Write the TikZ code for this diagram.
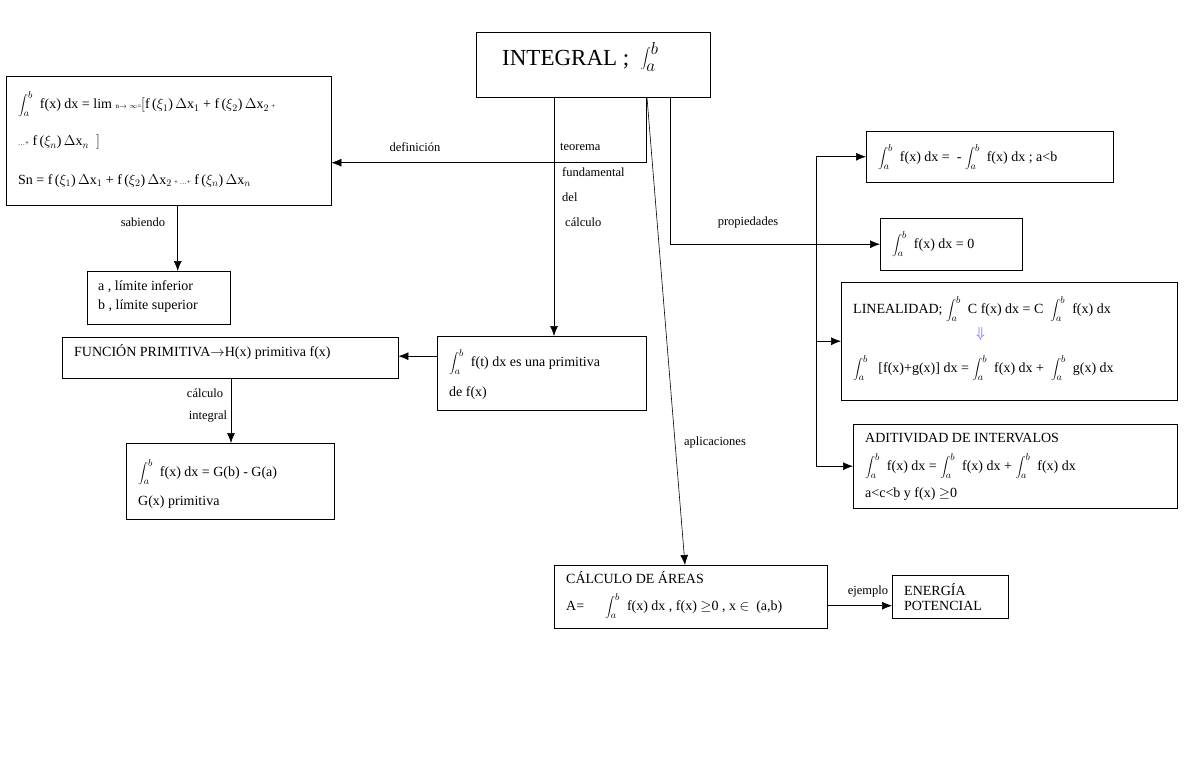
\documentclass[tikz,border=0pt]{standalone}
\usepackage{fontspec}
\setmainfont{Liberation Serif}
\usetikzlibrary{arrows, arrows.meta, positioning}
\tikzset{>={Latex[length=10pt,width=8pt]}}
\newcommand{\intab}{\ensuremath{\displaystyle\int_a^b}}
\begin{document}
\begin{tikzpicture}[x=1pt,y=-1pt,
  box/.style={draw,rectangle,inner sep=0pt,anchor=north west},
  txt/.style={anchor=west,inner sep=0pt,font=\fontsize{14}{16}\selectfont},
  lbl/.style={inner sep=0pt,font=\fontsize{12.5}{14}\selectfont},
  con/.style={->,semithick}]
\useasboundingbox (0,0) rectangle (1187,784);
% cajas
\node[box,minimum width=234,minimum height=65] (top) at (476,32) {};
\node[txt,font=\fontsize{23}{25}\selectfont] at (502,57) {INTEGRAL ;\ \ \intab};
\node[box,minimum width=325,minimum height=129] (def) at (6,76) {};
\node[txt] at (18,104) {\intab\ \ f(x) dx = lim {\scriptsize n$\to\infty$=}$\Big[$f\,($\xi_1$)\,$\Delta$x$_1$ + f\,($\xi_2$)\,$\Delta$x$_2$\,{\scriptsize+}};
\node[txt] at (18,142) {{\scriptsize\dots +} f\,($\xi_n$)\,$\Delta$x$_n$\ \ $\Big]$};
\node[txt] at (18,181) {Sn = f\,($\xi_1$)\,$\Delta$x$_1$ + f\,($\xi_2$)\,$\Delta$x$_2$\,{\scriptsize+ \dots +} f\,($\xi_n$)\,$\Delta$x$_n$};
\node[box,minimum width=143,minimum height=53] (lim) at (87,271) {};
\node[txt] at (98,287) {a , límite inferior};
\node[txt] at (98,306) {b , límite superior};
\node[box,minimum width=336,minimum height=41] (prim) at (62,337) {};
\node[txt] at (74,352) {FUNCIÓN PRIMITIVA$\to$H(x) primitiva f(x)};
\node[box,minimum width=208,minimum height=76] (barrow) at (126,443) {};
\node[txt] at (138,472) {\intab\ \ f(x) dx = G(b) - G(a)};
\node[txt] at (138,502) {G(x) primitiva};
\node[box,minimum width=209,minimum height=74] (teo) at (437,336) {};
\node[txt] at (449,362) {\intab\ \ f(t) dx es una primitiva};
\node[txt] at (449,393) {de f(x)};
\node[box,minimum width=247,minimum height=51] (p1) at (866,131) {};
\node[txt] at (878,157) {\intab\ \ f(x) dx =\ \ -\ \intab\ \ f(x) dx ; a<b};
\node[box,minimum width=142,minimum height=52] (p2) at (880,218) {};
\node[txt] at (892,244) {\intab\ \ f(x) dx = 0};
\node[box,minimum width=336,minimum height=118] (lin) at (841,282) {};
\node[txt] at (853,309) {LINEALIDAD;\ \intab\ \ C f(x) dx = C\ \ \intab\ \ f(x) dx};
\node[txt,text=blue!70] at (976,334) {$\Downarrow$};
\node[txt] at (853,368) {\intab\ \ \ [f(x)+g(x)] dx =\ \intab\ \ f(x) dx +\ \ \intab\ \ g(x) dx};
\node[box,minimum width=324,minimum height=84] (adit) at (853,424) {};
\node[txt] at (865,438) {ADITIVIDAD DE INTERVALOS};
\node[txt] at (865,466) {\intab\ \ f(x) dx =\ \intab\ \ f(x) dx +\ \intab\ \ f(x) dx};
\node[txt] at (865,494) {a<c<b y f(x) $\geq$0};
\node[box,minimum width=273,minimum height=63] (area) at (554,565) {};
\node[txt] at (566,578) {CÁLCULO DE ÁREAS};
\node[txt] at (566,606) {A=\quad\ \ \intab\ \ f(x) dx , f(x) $\geq$0 , x $\in$\ \ (a,b)};
\node[box,minimum width=116,minimum height=43] (ener) at (892,575) {};
\node[txt] at (904,590) {ENERGÍA};
\node[txt] at (904,606) {POTENCIAL};
% conectores
\coordinate (bus) at (816,248);
\draw[con] ([xshift=53]top.south) |- ([yshift=-22]def.east);
\node[lbl] at (415,147) {definición};
\draw[con] ([xshift=19]def.south -| lim.north) -- ([xshift=19]lim.north);
\node[lbl] at (143,222) {sabiendo};
\draw[con] ([xshift=78]top.south west) -- ([xshift=117]teo.north west);
\node[lbl,anchor=west] at (560,147) {teorema};
\node[lbl,anchor=west] at (562,172) {fundamental};
\node[lbl,anchor=west] at (562,197) {del};
\node[lbl,anchor=west] at (565,222) {cálculo};
\draw[con] ([yshift=17]teo.west) -- ([yshift=17]teo.west -| prim.east);
\draw[con] ([xshift=169]prim.south west) -- ([xshift=105]barrow.north west);
\node[lbl] at (205,393) {cálculo};
\node[lbl] at (208,417) {integral};
\draw[con] ([xshift=194]top.south west) |- (p2.west);
\node[lbl] at (748,222) {propiedades};
\draw[semithick] (p1.west -| bus) -- (adit.west -| bus);
\draw[con] (p1.west -| bus) -- (p1.west);
\draw[con] (lin.west -| bus) -- (lin.west);
\draw[con] (adit.west -| bus) -- (adit.west);
\draw[con] ([xshift=171]top.south west) -- ([xshift=131]area.north west);
\node[lbl] at (715,442) {aplicaciones};
\draw[con] ([yshift=-9]area.east) -- ([yshift=-9]area.east -| ener.west);
\node[lbl] at (868,591) {ejemplo};
\end{tikzpicture}
\end{document}
